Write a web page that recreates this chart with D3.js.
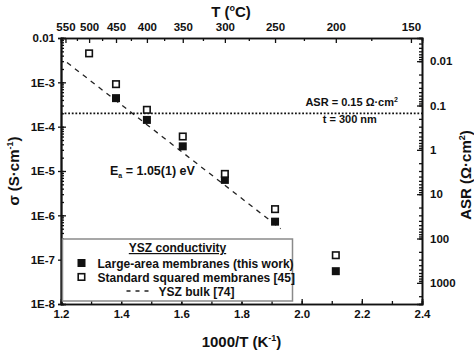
<!DOCTYPE html>
<html>
<head>
<meta charset="utf-8">
<script src="https://cdn.jsdelivr.net/npm/d3@7"></script>
<style>
  body { margin: 0; background: #fff; }
  text { font-family: "Liberation Sans", Arial, sans-serif; font-weight: bold; fill: #111; }
</style>
</head>
<body>
<script>
// data (x = 1000/T in K^-1, sigma in S/cm)
var largeArea = [4.4e-4, 1.42e-4, 3.6e-5, 6.3e-6, 7.2e-7, 5.5e-8];      // 450..200 C
var largeAreaT = [450, 400, 350, 300, 250, 200];
var standard = [4.5e-3, 9.1e-4, 2.4e-4, 6.0e-5, 8.6e-6, 1.38e-6, 1.26e-7]; // 500..200 C
var standardT = [500, 450, 400, 350, 300, 250, 200];
var bulkX = [1.22, 1.93];
var bulkSigma = [2.8e-3, 5.0e-7];
var topTicks = [550, 500, 450, 400, 350, 300, 250, 200, 150];
var topMinor = [525, 475, 425, 375, 325, 275, 225, 175];
var leftTicks = [1e-2, 1e-3, 1e-4, 1e-5, 1e-6, 1e-7, 1e-8];
var leftLabels = ["0.01", "1E-3", "1E-4", "1E-5", "1E-6", "1E-7", "1E-8"];
var rightTicks = [0.01, 0.1, 1, 10, 100, 1000];
var thickness = 3e-5;   // 300 nm in cm
var asrLimit = 0.15;

var svg = d3.select("body").append("svg")
    .attr("width", 474)
    .attr("height", 353)
    .style("display", "block");

var margin = {top: 38, right: 52, bottom: 49, left: 61};
var width = 474 - margin.left - margin.right;
var height = 353 - margin.top - margin.bottom;

var g = svg.append("g").attr("transform", "translate(" + margin.left + "," + margin.top + ")");

var x = d3.scaleLinear().domain([1.2, 2.4]).range([0, width]);
var y = d3.scaleLog().domain([1e-8, 1e-2]).range([height, 0]);
var yAsr = d3.scaleLog().domain([thickness / 1e-8, thickness / 1e-2]).range([height, 0]);

function invT(t) { return 1000 / (t + 273.15); }

function styleAxis(sel) {
    sel.select(".domain").attr("stroke", "#111").attr("stroke-width", 1.6);
    sel.selectAll(".tick line").attr("stroke", "#111").attr("stroke-width", 1.3);
    sel.selectAll("text").attr("font-size", 11.5).attr("font-family", null).attr("fill", "#111");
}

// bottom axis
g.append("g").attr("transform", "translate(0," + height + ")")
    .call(d3.axisBottom(x).tickValues(d3.range(1.2, 2.41, 0.1)).tickSize(-3).tickFormat(""))
    .call(styleAxis);
g.append("g").attr("transform", "translate(0," + height + ")")
    .call(d3.axisBottom(x).tickValues(d3.range(1.2, 2.41, 0.2)).tickSize(-5).tickPadding(6)
        .tickFormat(d3.format(".1f")))
    .call(styleAxis);

// top axis (temperature)
g.append("g")
    .call(d3.axisTop(x).tickValues(topMinor.map(invT)).tickSize(-3).tickFormat(""))
    .call(styleAxis);
g.append("g")
    .call(d3.axisTop(x).tickValues(topTicks.map(invT)).tickSize(-5).tickPadding(7)
        .tickFormat(function (d, i) { return topTicks[i]; }))
    .call(styleAxis);

// left axis
g.append("g")
    .call(d3.axisLeft(y).tickValues(y.ticks()).tickSize(-3).tickFormat(""))
    .call(styleAxis);
g.append("g")
    .call(d3.axisLeft(y).tickValues(leftTicks).tickSize(-5).tickFormat(""))
    .call(styleAxis);
g.append("g")
    .call(d3.axisLeft(y).tickValues(leftTicks).tickSize(3).tickPadding(3)
        .tickFormat(function (d, i) { return leftLabels[i]; }))
    .call(styleAxis);

// right axis (ASR)
g.append("g").attr("transform", "translate(" + width + ",0)")
    .call(d3.axisRight(yAsr).tickValues(yAsr.ticks()).tickSize(-3).tickFormat(""))
    .call(styleAxis);
g.append("g").attr("transform", "translate(" + width + ",0)")
    .call(d3.axisRight(yAsr).tickValues(rightTicks).tickSize(-5).tickPadding(8)
        .tickFormat(function (d) { return String(d); }))
    .call(styleAxis);

// ASR limit line
g.append("line")
    .attr("x1", 0).attr("x2", width)
    .attr("y1", yAsr(asrLimit)).attr("y2", yAsr(asrLimit))
    .attr("stroke", "#111").attr("stroke-width", 1.8)
    .attr("stroke-dasharray", "1.8,1.8");

g.append("text")
    .attr("x", x(2.32)).attr("y", yAsr(asrLimit) - 7)
    .attr("text-anchor", "end").attr("font-size", 11)
    .text("ASR = 0.15 Ω·cm")
    .append("tspan").attr("dy", -4).attr("font-size", 7).text("2");
g.append("text")
    .attr("x", x(2.16)).attr("y", yAsr(asrLimit) + 10)
    .attr("text-anchor", "middle").attr("font-size", 11)
    .text("t = 300 nm");

// YSZ bulk line
var bulk = bulkX.map(function (d, i) { return [d, bulkSigma[i]]; });
g.append("path")
    .datum(bulk)
    .attr("d", d3.line().x(function (d) { return x(d[0]); }).y(function (d) { return y(d[1]); }))
    .attr("fill", "none").attr("stroke", "#222").attr("stroke-width", 1.3)
    .attr("stroke-dasharray", "5,5");

// markers
var sq = 8;
g.selectAll(".large")
    .data(largeArea)
    .enter().append("rect")
    .attr("class", "large")
    .attr("x", function (d, i) { return x(invT(largeAreaT[i])) - sq / 2; })
    .attr("y", function (d) { return y(d) - sq / 2; })
    .attr("width", sq).attr("height", sq)
    .attr("fill", "#111");

g.selectAll(".std")
    .data(standard)
    .enter().append("rect")
    .attr("class", "std")
    .attr("x", function (d, i) { return x(invT(standardT[i])) - (sq - 1.5) / 2; })
    .attr("y", function (d) { return y(d) - (sq - 1.5) / 2; })
    .attr("width", sq - 1.5).attr("height", sq - 1.5)
    .attr("fill", "#fff").attr("stroke", "#111").attr("stroke-width", 1.6);

// activation energy label
var ea = g.append("text")
    .attr("x", 49).attr("y", 137).attr("font-size", 12.5);
ea.append("tspan").text("E");
ea.append("tspan").attr("dy", 3).attr("font-size", 7).text("a");
ea.append("tspan").attr("dy", -3).text(" = 1.05(1) eV");

// legend
var lg = g.append("g").attr("transform", "translate(1.5," + 201 + ")");
lg.append("rect")
    .attr("x", 0).attr("y", 0).attr("width", 230).attr("height", 62)
    .attr("fill", "#fff").attr("stroke", "#8a8a8a").attr("stroke-width", 1.5);
lg.append("text")
    .attr("x", 115).attr("y", 13).attr("text-anchor", "middle")
    .attr("font-size", 12).attr("text-decoration", "underline")
    .text("YSZ conductivity");
lg.append("rect").attr("x", 15).attr("y", 20).attr("width", sq).attr("height", sq).attr("fill", "#111");
lg.append("text").attr("x", 35).attr("y", 28.5).attr("font-size", 12)
    .text("Large-area membranes (this work)");
lg.append("rect").attr("x", 15.7).attr("y", 34.7).attr("width", sq - 1.5).attr("height", sq - 1.5)
    .attr("fill", "#fff").attr("stroke", "#111").attr("stroke-width", 1.6);
lg.append("text").attr("x", 35).attr("y", 42.5).attr("font-size", 12)
    .text("Standard squared membranes [45]");
lg.append("line").attr("x1", 64).attr("x2", 90).attr("y1", 52).attr("y2", 52)
    .attr("stroke", "#222").attr("stroke-width", 1.3).attr("stroke-dasharray", "4,5");
lg.append("text").attr("x", 96).attr("y", 56.5).attr("font-size", 12)
    .text("YSZ bulk [74]");

// axis titles
var xt = svg.append("text")
    .attr("x", margin.left + width / 2).attr("y", 347)
    .attr("text-anchor", "middle").attr("font-size", 15);
xt.append("tspan").text("1000/T (K");
xt.append("tspan").attr("dy", -6).attr("font-size", 9).text("-1");
xt.append("tspan").attr("dy", 6).text(")");

var tt = svg.append("text")
    .attr("x", 231).attr("y", 17)
    .attr("text-anchor", "middle").attr("font-size", 15);
tt.append("tspan").text("T (");
tt.append("tspan").attr("dy", -6).attr("font-size", 9).text("o");
tt.append("tspan").attr("dy", 6).text("C)");

var lt = svg.append("text")
    .attr("transform", "translate(19," + (margin.top + height / 2) + ") rotate(-90)")
    .attr("text-anchor", "middle").attr("font-size", 15);
lt.append("tspan").text("σ (S·cm");
lt.append("tspan").attr("dy", -6).attr("font-size", 9).text("-1");
lt.append("tspan").attr("dy", 6).text(")");

var rt = svg.append("text")
    .attr("transform", "translate(471," + (margin.top + height / 2 + 4) + ") rotate(-90)")
    .attr("text-anchor", "middle").attr("font-size", 15);
rt.append("tspan").text("ASR (Ω·cm");
rt.append("tspan").attr("dy", -6).attr("font-size", 9).text("2");
rt.append("tspan").attr("dy", 6).text(")");
</script>
</body>
</html>
